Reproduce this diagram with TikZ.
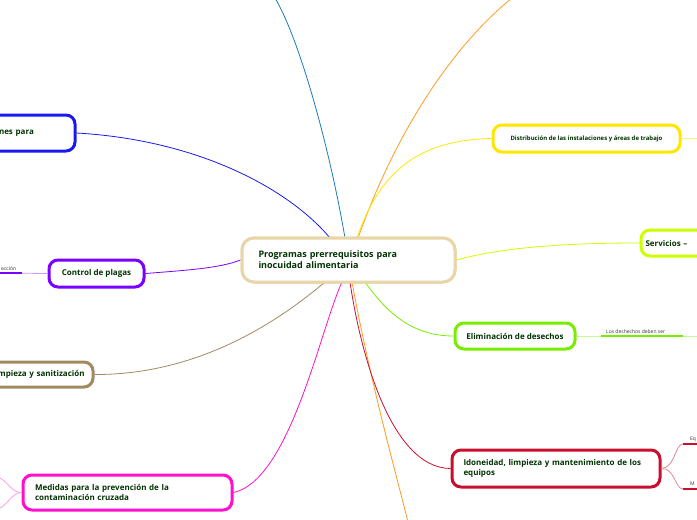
\documentclass[tikz,border=0pt]{standalone}
\usepackage{fontspec}
\setmainfont{Open Sans}
\begin{document}
\begin{tikzpicture}[x=1pt,y=-1pt,
 box/.style={draw,line width=3pt,rounded corners=9pt,fill=white,text=black!20!green!25!black,font=\bfseries\fontsize{8}{10}\selectfont,align=left,inner sep=0pt},
 small/.style={font=\fontsize{5}{6}\selectfont,text=black!80,inner sep=1pt},
 lk/.style={line width=0.8pt}]
\useasboundingbox (0,0) rectangle (697,520);
\definecolor{cbeige}{HTML}{E8D5A8}
\definecolor{cblue}{HTML}{1A1AEE}
\definecolor{cpurp}{HTML}{7A00FF}
\definecolor{cbrown}{HTML}{A08A5F}
\definecolor{cmag}{HTML}{FF10CC}
\definecolor{cyel}{HTML}{FFE600}
\definecolor{clime}{HTML}{CCFF00}
\definecolor{cgreen}{HTML}{77EE00}
\definecolor{ccrim}{HTML}{C8102E}
\definecolor{corange}{HTML}{FF9A20}
\definecolor{csky}{HTML}{1A7ABF}
\coordinate (ctop) at (345,238);
\draw[csky,lk] (ctop) .. controls (330,150) and (300,40) .. (275,-2);
\draw[corange,lk] (358,238) .. controls (400,120) and (460,40) .. (512,-2);
\draw[corange,lk] (352,282) .. controls (370,380) and (395,470) .. (408,522);
\node[box,draw=cbeige,rounded corners=12pt,minimum width=213pt,minimum height=44pt,text width=180pt,font=\bfseries\fontsize{9}{11}\selectfont] (c) at (348.5,260) {Programas prerrequisitos para\\inocuidad alimentaria};
\node[box,draw=cblue,minimum width=85pt,minimum height=36pt,text width=75pt] (n1) at (32.5,133) {\hspace*{4pt}nes para\\[3pt]};
\node[box,draw=cpurp,minimum width=95pt,minimum height=27pt,align=center] (n2) at (96.5,273.5) {Control de plagas};
\node[box,draw=cbrown,minimum width=103pt,minimum height=25pt,text width=95pt] (n3) at (41.5,374.5) {\hspace*{4pt}mpieza y sanitización};
\node[box,draw=cmag,minimum width=209pt,minimum height=35pt,text width=185pt] (n4) at (127.5,492.5) {Medidas para la prevención de la\\contaminación cruzada};
\node[box,draw=cyel,minimum width=187pt,minimum height=27pt,align=center,font=\bfseries\fontsize{6}{8}\selectfont] (n5) at (586.5,138.5) {Distribución de las instalaciones y áreas de trabajo};
\node[box,draw=clime,minimum width=69pt,minimum height=26pt,text width=60pt] (n6) at (675.5,243) {Servicios –};
\node[box,draw=cgreen,minimum width=120pt,minimum height=26pt,align=center] (n7) at (515,336) {Eliminación de desechos};
\node[box,draw=ccrim,minimum width=208pt,minimum height=37pt,text width=185pt] (n8) at (556,468.5) {Idoneidad, limpieza y mantenimiento de los\\equipos};
\draw[cblue,lk] (n1.east) .. controls (200,140) and (290,190) .. (330,238);
\draw[cpurp,lk] (n2.east) .. controls (190,270) and (220,268) .. (c.west);
\draw[cbrown,lk] (n3.east) .. controls (200,375) and (280,320) .. (325,282);
\draw[cmag,lk] (n4.east) .. controls (290,480) and (320,330) .. (342,282);
\draw[cyel,lk] (n5.west) .. controls (420,140) and (380,170) .. (357,238);
\draw[clime,lk] (n6.west) .. controls (560,243) and (500,248) .. (c.east);
\draw[cgreen,lk] (n7.west) .. controls (410,336) and (385,310) .. (365,282);
\draw[ccrim,lk] (n8.west) .. controls (390,468) and (360,350) .. (350,282);
\node[box,draw=cbeige,rounded corners=12pt,minimum width=213pt,minimum height=44pt,text width=180pt,font=\bfseries\fontsize{9}{11}\selectfont] at (348.5,260) {Programas prerrequisitos para\\inocuidad alimentaria};
\draw[cpurp!40,lk] (n2.west) -- (0,273);
\draw[cpurp,line width=1.5pt] (0,273) -- (22,273);
\node[small,anchor=south west] (l1) at (0,272) {ección};
\draw[cmag!40,lk] (n4.west) .. controls (12,493) and (8,482) .. (0,478);
\draw[cmag!40,lk] (n4.west) .. controls (12,493) and (8,504) .. (0,508);
\draw[cyel!50,lk] (n5.east) -- (697,138.5);
\draw[cgreen!40,lk] (n7.east) -- (697,336);
\draw[cgreen,line width=1.5pt] (601,336) -- (683,336);
\node[small,anchor=south west] (l2) at (605,335) {Los deshechos deben ser};
\coordinate (b1) at (697,444);
\coordinate (b2) at (697,489);
\draw[ccrim!50,lk] (n8.east) .. controls (675,468) and (675,444) .. (683,444) -- (b1);
\draw[ccrim!50,lk] (n8.east) .. controls (675,468) and (675,489) .. (683,489) -- (b2);
\draw[ccrim,line width=1.5pt] (683,444) -- (697,444) (683,489) -- (697,489);
\node[small,anchor=south west] (l3) at (689,443) {Eq};
\node[small,anchor=south west] (l4) at (689,487) {M};
\end{tikzpicture}
\end{document}
